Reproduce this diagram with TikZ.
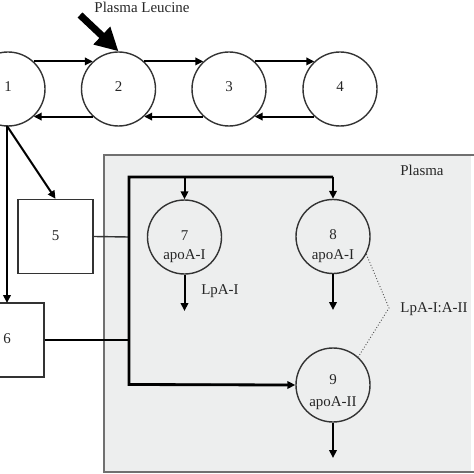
\documentclass[tikz,border=0pt]{standalone}
\usepackage{fontspec}
\setmainfont{Liberation Serif}
\usetikzlibrary{arrows.meta,calc}
\definecolor{plasmafill}{HTML}{EDEEEE}
\definecolor{plasmaedge}{HTML}{707070}
\definecolor{edgedark}{HTML}{333333}
\begin{document}
\begin{tikzpicture}[x=1bp,y=-1bp,
  font=\fontsize{15}{18}\selectfont,
  pool/.style={circle,draw=edgedark,line width=1.4bp,minimum size=74bp,inner sep=0pt},
  boxpool/.style={rectangle,draw=edgedark,line width=1.4bp,minimum width=75bp,minimum height=74bp,inner sep=0pt,fill=white},
  txt/.style={anchor=base,inner sep=0pt,text=black!85},
  flow/.style={line width=2bp,-{Triangle[length=8bp,width=7.5bp]}},
  bigflow/.style={line width=2.8bp},
  dotline/.style={dotted,line width=0.9bp,draw=black!70}]
\useasboundingbox (0,0) rectangle (474,474);
% plasma compartment
\fill[plasmafill] (104,155) rectangle (471,472);
\draw[plasmaedge,line width=1.6bp] (474,155) -- (104,155) -- (104,472) -- (474,472);
\node[txt] (plasmalbl) at (422,176) {Plasma};
% top pools
\node[pool] (c1) at (8,89) {};
\node[pool] (c2) at (118.5,89) {};
\node[pool] (c3) at (229,89) {};
\node[pool] (c4) at (340,89) {};
\node[txt] (t1) at (8,92) {1};
\node[txt] (t2) at (118.5,92) {2};
\node[txt] (t3) at (229,92) {3};
\node[txt] (t4) at (340,92) {4};
% Plasma leucine input
\node[txt] (leu) at (142,12.5) {Plasma Leucine};
\coordinate (leustart) at (80,15);
\draw[line width=7bp,-{Triangle[length=23bp,width=23bp]}] (leustart) -- (c2.north);
% exchange arrows
\draw[flow] (c1.47) -- (c2.133);
\draw[flow] (c2.47) -- (c3.133);
\draw[flow] (c3.47) -- (c4.133);
\draw[flow] (c2.227) -- (c1.313);
\draw[flow] (c3.227) -- (c2.313);
\draw[flow] (c4.227) -- (c3.313);
% boxes 5 and 6
\node[boxpool] (b5) at (55.5,236.5) {};
\node[txt] (t5) at (55.5,240) {5};
\node[boxpool] (b6) at (6.5,340) {};
\node[txt] (t6) at (7,343) {6};
\coordinate (c1b) at (7,126);
\draw[flow] (c1b) -- (b5.north);
\draw[flow] (c1b) -- (7,303);
% plasma pools
\node[pool,fill=plasmafill] (c7) at (184.5,237) {};
\node[pool,fill=plasmafill] (c8) at (333,236.5) {};
\node[pool,fill=plasmafill] (c9) at (333,385) {};
\node[txt] (t7) at (184.5,240) {7};
\node[txt] (a7) at (184.5,259) {apoA-I};
\node[txt] (t8) at (333,239) {8};
\node[txt] (a8) at (333,259) {apoA-I};
\node[txt] (t9) at (333,384) {9};
\node[txt] (a9) at (333,406) {apoA-II};
% secretion lines
\coordinate (tl) at (129,177);
\coordinate (tm) at (184.5,177);
\coordinate (tr) at (333,177);
\coordinate (bl) at (129,384.5);
\coordinate (j5) at (129,237);
\coordinate (j6) at (129,340);
\draw[line width=1.4bp,draw=edgedark] (b5.east) -- (j5);
\draw[line width=2bp] (b6.east) -- (j6);
\draw[bigflow] (tr) -- (tl) -- (bl) -- ($(c9.west)+(-8,0)$);
\draw[flow] (bl) -- (c9.west);
\draw[flow] (tm) -- (c7.north);
\draw[flow] (tr) -- (c8.north);
% outputs
\coordinate (o7) at (184.5,311);
\coordinate (o8) at (333,310);
\coordinate (o9) at (333,458);
\draw[flow] (c7.south) -- (o7);
\draw[flow] (c8.south) -- (o8);
\draw[flow] (c9.south) -- (o9);
\node[txt] (lpa1) at (220,294) {LpA-I};
% LpA-I:A-II bracket
\coordinate (dk) at (389,308);
\draw[dotline] (c8.-28) -- (dk) -- (c9.48);
\node[txt] (lpa2) at (434,312) {LpA-I:A-II};
\end{tikzpicture}
\end{document}
